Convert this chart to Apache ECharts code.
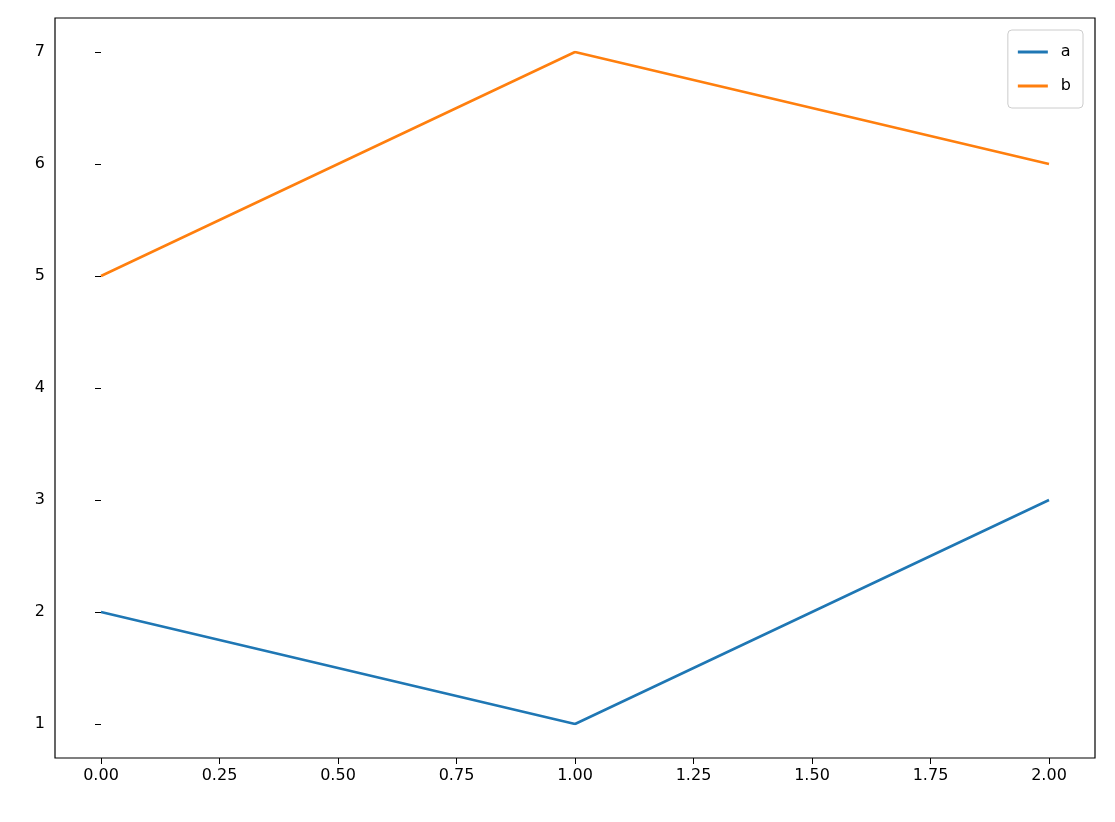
<!DOCTYPE html>
<html><head><meta charset="utf-8">
<script src="https://cdn.jsdelivr.net/npm/echarts@6/dist/echarts.min.js"></script>
<style>html,body{margin:0;background:#fff}#c{width:1115px;height:822px}</style>
</head><body><div id="c"></div>
<script>
const xValues = [0, 1, 2];
const seriesA = [2, 1, 3];
const seriesB = [5, 7, 6];
const seriesNames = ['a', 'b'];
const chart = echarts.init(document.getElementById('c'));
const font = {fontFamily: 'DejaVu Sans', fontSize: 16, color: '#000'};
const hiddenLine = {show: true, lineStyle: {color: 'rgba(0,0,0,0)'}};
chart.setOption({
  animation: false,
  grid: {left: 101, right: 66, top: 52, bottom: 98},
  graphic: [{type: 'rect', shape: {x: 55, y: 18, width: 1040, height: 740},
    style: {fill: 'none', stroke: '#000', lineWidth: 1.2}, z: 10}],
  legend: {right: 32, top: 30, orient: 'vertical', itemWidth: 30, itemHeight: 3, itemGap: 18,
    padding: [14, 12, 14, 10], borderColor: '#ccc', borderWidth: 1, borderRadius: 4,
    icon: 'rect', textStyle: {fontFamily: 'DejaVu Sans', fontSize: 16, color: '#000', padding: [0, 0, 0, 8]},
    data: seriesNames},
  xAxis: {type: 'value', min: 0, max: 2, interval: 0.25, offset: 34,
    axisLine: hiddenLine, splitLine: {show: false},
    axisTick: {show: true, length: 6, lineStyle: {color: '#000'}},
    axisLabel: Object.assign({margin: 10, formatter: v => v.toFixed(2)}, font)},
  yAxis: {type: 'value', min: 1, max: 7, interval: 1, offset: 46,
    axisLine: hiddenLine, splitLine: {show: false},
    axisTick: {show: true, length: 6, lineStyle: {color: '#000'}},
    axisLabel: Object.assign({margin: 10}, font)},
  series: [
    {name: seriesNames[0], type: 'line', data: xValues.map((x, i) => [x, seriesA[i]]),
     showSymbol: false, lineStyle: {width: 2.5, color: '#1f77b4'}, itemStyle: {color: '#1f77b4'}},
    {name: seriesNames[1], type: 'line', data: xValues.map((x, i) => [x, seriesB[i]]),
     showSymbol: false, lineStyle: {width: 2.5, color: '#ff7f0e'}, itemStyle: {color: '#ff7f0e'}}
  ]
});
</script></body></html>
